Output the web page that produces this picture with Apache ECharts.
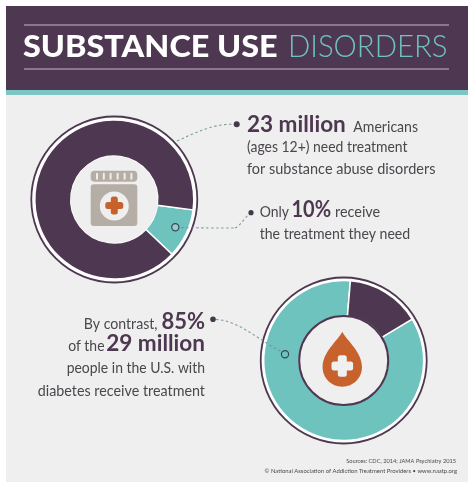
<!DOCTYPE html>
<html>
<head>
<meta charset="utf-8">
<style>
  html, body { margin: 0; padding: 0; background: #fff; }
  #chart { width: 474px; height: 488px; }
</style>
<script src="https://cdn.jsdelivr.net/npm/echarts@6/dist/echarts.min.js"></script>
</head>
<body>
<div id="chart"></div>
<script>
// data
const substanceLabels = ["Receive treatment", "No treatment"];
const substanceValues = [10, 90];
const diabetesLabels = ["Receive treatment", "No treatment"];
const diabetesValues = [85, 15];

const DARK = "#4e3750";
const TEAL = "#6fc3bf";
const GRAY = "#efefef";
const TEXT = "#4b474d";
const FONT = "Lato, 'Open Sans', sans-serif";

(function () {
    // blood drop shape
    echarts.graphic.registerShape("drop", echarts.graphic.extendShape({
        shape: { cx: 0, top: 0, bottom: 0, halfWidth: 0 },
        buildPath: function (ctx, s) {
            let mid = s.bottom - s.halfWidth;
            ctx.moveTo(s.cx, s.top);
            ctx.bezierCurveTo(s.cx - 4.5, s.top + 9, s.cx - s.halfWidth, s.top + 20, s.cx - s.halfWidth, mid);
            ctx.bezierCurveTo(s.cx - s.halfWidth, mid + 11, s.cx - 11, s.bottom, s.cx, s.bottom);
            ctx.bezierCurveTo(s.cx + 11, s.bottom, s.cx + s.halfWidth, mid + 11, s.cx + s.halfWidth, mid);
            ctx.bezierCurveTo(s.cx + s.halfWidth, s.top + 20, s.cx + 4.5, s.top + 9, s.cx, s.top);
            ctx.closePath();
        }
    }));

    let myChart = echarts.init(document.getElementById("chart"));

    // text helper, y is the baseline, xs squeezes the text sideways
    function txt(x, y, str, size, weight, color, align, xs) {
        return {
            type: "text",
            z: 20,
            x: x,
            y: y - size * 0.34,
            scaleX: xs || 1,
            style: {
                text: str,
                fontFamily: FONT,
                fontSize: size,
                fontWeight: weight || 400,
                fill: color || TEXT,
                align: align || "left",
                verticalAlign: "middle"
            }
        };
    }
    function rect(x, y, w, h, r, fill, z) {
        return {
            type: "rect",
            z: z == null ? 12 : z,
            shape: { x: x, y: y, width: w, height: h, r: r || 0 },
            style: { fill: fill }
        };
    }
    function circle(cx, cy, r, fill, stroke, lw, z) {
        return {
            type: "circle",
            z: z == null ? 12 : z,
            shape: { cx: cx, cy: cy, r: r },
            style: { fill: fill || "none", stroke: stroke || "none", lineWidth: lw || 0 }
        };
    }
    function cross(cx, cy, size, thick, fill) {
        return [
            rect(cx - size / 2, cy - thick / 2, size, thick, 2.5, fill, 14),
            rect(cx - thick / 2, cy - size / 2, thick, size, 2.5, fill, 14)
        ];
    }
    // dashed leader line
    function leader(p, c1, c2, q) {
        return {
            type: "bezierCurve",
            z: 15,
            shape: { x1: p[0], y1: p[1], cpx1: c1[0], cpy1: c1[1], cpx2: c2[0], cpy2: c2[1], x2: q[0], y2: q[1] },
            style: { stroke: "#6c8f92", lineWidth: 1.1, lineDash: [2.5, 2.5], fill: "none", opacity: 0.85 }
        };
    }

    let elements = [
        // panel + header
        rect(6, 90, 462, 392, 0, GRAY, 0),
        rect(6, 6, 462, 84, 0, DARK, 1),
        rect(6, 90, 462, 5, 0, "#7cc6c6", 1),
        rect(24, 24.6, 425, 0.9, 0, "#c9b8c9", 2),
        rect(24, 68.6, 425, 0.9, 0, "#c9b8c9", 2),
        txt(23, 58, "SUBSTANCE USE", 31, 900, "#ffffff", "left", 1.045),
        txt(288, 58, "DISORDERS", 31, 300, TEAL, "left", 0.946),

        // ring + white gap behind the pies, gray hole on top of it
        circle(114.3, 199.5, 83, "#ffffff", DARK, 1.8, 1),
        circle(343.7, 360.5, 83, "#ffffff", DARK, 1.8, 1),
        circle(114.3, 199.5, 44, GRAY, null, 0, 2),
        circle(343.7, 360.5, 45, GRAY, null, 0, 2),
        circle(114.3, 199.5, 43.5, GRAY, null, 0, 11),
        circle(343.7, 360.5, 44.5, GRAY, DARK, 2, 11),

        // pill bottle
        rect(90.7, 170.7, 46.6, 11, 4, "#b5aea6"),
        rect(90.7, 184.3, 46.6, 41.7, 3, "#b5aea6"),
        rect(96, 172.8, 2, 7, 1, "#f0eeea", 13),
        rect(102.8, 172.8, 2, 7, 1, "#f0eeea", 13),
        rect(109.6, 172.8, 2, 7, 1, "#f0eeea", 13),
        rect(116.6, 172.8, 2, 7, 1, "#f0eeea", 13),
        rect(123.6, 172.8, 2, 7, 1, "#f0eeea", 13),
        rect(130.4, 172.8, 2, 7, 1, "#f0eeea", 13),
        circle(114.3, 206, 14.5, "#efefef", null, 0, 13),

        // blood drop
        {
            type: "drop",
            z: 12,
            shape: { cx: 342.3, top: 331.7, bottom: 386.7, halfWidth: 19.7 },
            style: { fill: "#c8622d" }
        },

        // leader lines
        leader([177, 141], [195, 133], [212, 124], [232, 124.3]),
        leader([176, 227.5], [200, 228], [220, 228], [235, 228]),
        leader([235, 228], [240, 226], [243, 220], [248, 215]),
        leader([216, 319.5], [238, 320], [258, 340], [283, 352.5]),
        circle(236.7, 124.3, 3, "#423a4c", null, 0, 16),
        circle(251, 212.7, 2.6, "#423a4c", null, 0, 16),
        circle(213, 319.3, 2.8, "#423a4c", null, 0, 16),
        circle(175.3, 227.3, 3.6, "#9fc9cf", "#2f4a55", 1.2, 16),
        circle(285, 354.3, 3.6, TEAL, "#2f4a55", 1.2, 16),

        // callout 1
        txt(247, 132.3, "23 million", 23, 700, DARK, "left", 0.98),
        txt(353.3, 132.3, "Americans", 15, 400, null, "left", 0.94),
        txt(247, 152.7, "(ages 12+) need treatment", 15, 400, null, "left", 0.93),
        txt(247, 174, "for substance abuse disorders", 15, 400, null, "left", 0.964),

        // callout 2
        txt(259.7, 217.3, "Only", 15, 400, null, "left", 0.93),
        txt(291.5, 217.3, "10%", 22, 700, DARK, "left", 0.91),
        txt(335, 217.3, "receive", 15, 400, null, "left", 0.96),
        txt(259.7, 239.3, "the treatment they need", 15, 400, null, "left", 0.94),

        // callout 3
        txt(157.5, 329.3, "By contrast,", 15, 400, null, "right", 0.94),
        txt(205, 329.3, "85%", 22, 700, DARK, "right"),
        txt(104.5, 351, "of the", 15, 400, null, "right", 0.93),
        txt(205, 351, "29 million", 23, 700, DARK, "right", 0.98),
        txt(205, 373.7, "people in the U.S. with", 15, 400, null, "right", 0.93),
        txt(205, 396, "diabetes receive treatment", 15, 400, null, "right", 0.954),

        // footer
        txt(456, 463, "Sources: CDC, 2014; JAMA Psychiatry 2015", 6.5, 400, null, "right", 0.87),
        txt(457, 473.5, "© National Association of Addiction Treatment Providers • www.naatp.org", 6.5, 400, null, "right", 0.906)
    ];
    elements = elements
        .concat(cross(114.3, 205.6, 18, 7, "#c8622d"))
        .concat(cross(342.3, 366, 21.6, 9, "#f0f0f0"));

    function pieData(names, values, colors) {
        return names.map(function (name, i) {
            return { name: name, value: values[i], itemStyle: { color: colors[i] } };
        });
    }

    let option = {
        animation: false,
        backgroundColor: "#ffffff",
        graphic: { elements: elements },
        series: [
            {
                type: "pie",
                z: 5,
                silent: true,
                center: [114.3, 199.5],
                radius: [43.5, 79.5],
                startAngle: -7.5,
                clockwise: true,
                label: { show: false },
                labelLine: { show: false },
                itemStyle: { borderColor: "#ffffff", borderWidth: 1.5 },
                data: pieData(substanceLabels, substanceValues, [TEAL, DARK])
            },
            {
                type: "pie",
                z: 5,
                silent: true,
                center: [343.7, 360.5],
                radius: [44.5, 80],
                startAngle: 31.2,
                clockwise: true,
                label: { show: false },
                labelLine: { show: false },
                itemStyle: { borderColor: "#ffffff", borderWidth: 1.5 },
                data: pieData(diabetesLabels, diabetesValues, [TEAL, DARK])
            }
        ]
    };
    myChart.setOption(option);
})();
</script>
</body>
</html>
